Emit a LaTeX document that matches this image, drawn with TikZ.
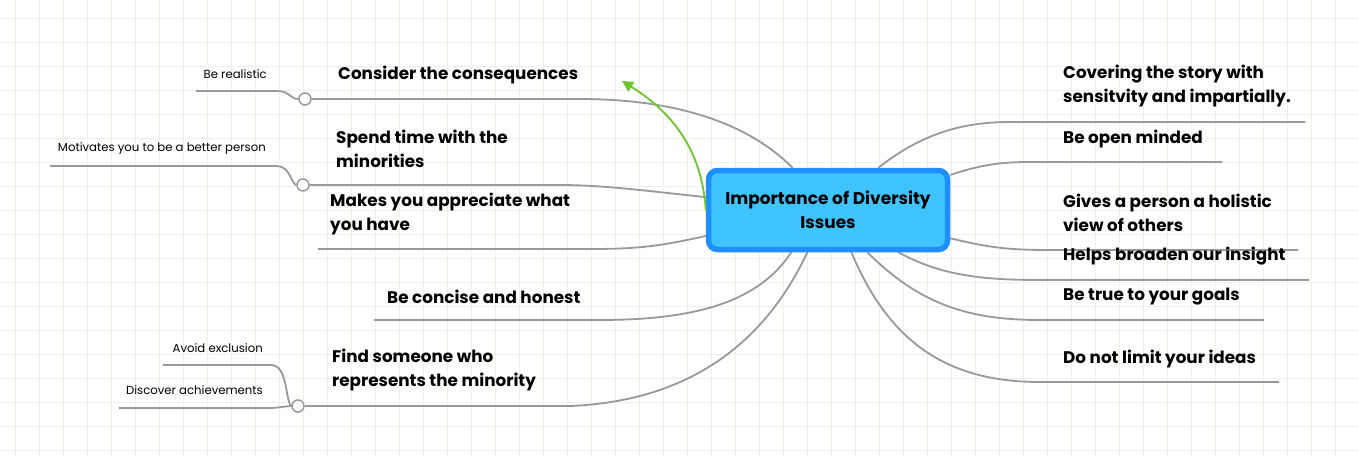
\documentclass[tikz,border=0pt]{standalone}
\usepackage{fontspec}
\setmainfont{Poppins}
\usetikzlibrary{arrows.meta}
\pgfdeclarelayer{bg}
\pgfsetlayers{bg,main}
\definecolor{gridline}{HTML}{EDF2E4}
\definecolor{branchgray}{HTML}{999999}
\definecolor{rootborder}{HTML}{1F8FFF}
\definecolor{rootfill}{HTML}{40C4FF}
\definecolor{linkgreen}{HTML}{6CC52D}
\tikzset{
  root/.style={draw=rootborder, fill=rootfill, line width=5.5pt, rounded corners=9pt,
    minimum width=239pt, minimum height=79pt, align=center,
    font=\fontsize{17}{24}\selectfont\bfseries},
  topic/.style={font=\fontsize{16.8}{24}\selectfont\bfseries, align=left, anchor=west, inner sep=0pt},
  subtopic/.style={font=\fontsize{11.7}{13}\selectfont, anchor=east, inner sep=0pt},
  branch/.style={draw=branchgray, line width=1.8pt},
  joint/.style={circle, draw=branchgray, line width=1.5pt, fill=white, minimum size=12pt, inner sep=0pt}
}
\begin{document}
\begin{tikzpicture}[x=1pt,y=1pt]
  \useasboundingbox (0,0) rectangle (1359,-456);
  \begin{pgfonlayer}{bg}
    \fill[white] (0,0) rectangle (1359,-456);
    \foreach \gx in {15,39,...,1359}
      \draw[gridline, line width=0.8pt] (\gx,0) -- (\gx,-456);
    \foreach \gy in {18,42,...,456}
      \draw[gridline, line width=0.8pt] (0,-\gy) -- (1359,-\gy);
  \end{pgfonlayer}

  % central topic
  \node[root] (root) at (828,-210) {Importance of Diversity\\Issues};

  % left side
  \node[topic] (t1) at (338,-75) {Consider the consequences};
  \node[topic] (t2) at (336,-149) {Spend time with the\\minorities};
  \node[topic] (t3) at (330,-214) {Makes you appreciate what\\you have};
  \node[topic] (t4) at (387,-297) {Be concise and honest};
  \node[topic] (t5) at (332,-370) {Find someone who\\represents the minority};

  % right side
  \node[topic] (t6) at (1063,-86) {Covering the story with\\sensitvity and impartially.};
  \node[topic] (t7) at (1063,-139) {Be open minded};
  \node[topic] (t8) at (1063,-213) {Gives a person a holistic\\view of others};
  \node[topic] (t9) at (1063,-256) {Helps broaden our insight};
  \node[topic] (t10) at (1063,-297) {Be true to your goals};
  \node[topic] (t11) at (1063,-359) {Do not limit your ideas};

  % sub topics
  \node[subtopic] (s1) at (267,-74) {Be realistic};
  \node[subtopic] (s2) at (266,-149) {Motivates you to be a better person};
  \node[subtopic] (s3) at (263,-348) {Avoid exclusion};
  \node[subtopic] (s4) at (263,-390) {Discover achievements};

  % joints
  \node[joint] (j1) at (305,-99) {};
  \node[joint] (j2) at (303,-185) {};
  \node[joint] (j3) at (298,-406) {};

  % free ends of the underlines
  \coordinate (e3) at (318,-249);
  \coordinate (e4) at (374,-320);
  \coordinate (e6) at (1305,-122);
  \coordinate (e7) at (1222,-162);
  \coordinate (e8) at (1298,-250);
  \coordinate (e9) at (1309,-280);
  \coordinate (e10) at (1264,-320);
  \coordinate (e11) at (1279,-382);
  \coordinate (f1) at (196,-91);
  \coordinate (f2) at (50,-166);
  \coordinate (f3) at (163,-365);
  \coordinate (f4) at (119,-408);

  \begin{pgfonlayer}{bg}
    \draw[branch] (root.130.6) .. controls (750,-125) and (680,-99) .. (580,-99) -- (j1);
    \draw[branch] (root.174) .. controls (640,-190) and (600,-185) .. (560,-185) -- (j2);
    \draw[branch] (root.192) .. controls (660,-246) and (640,-249) .. (590,-249) -- (e3);
    \draw[branch] (root.229.4) .. controls (760,-300) and (700,-320) .. (600,-320) -- (e4);
    \draw[branch] (root.244.5) .. controls (780,-310) and (720,-400) .. (570,-406) -- (j3);
    \draw[branch] (root.40) .. controls (920,-135) and (960,-122) .. (1010,-122) -- (e6);
    \draw[branch] (root.16) .. controls (980,-165) and (1000,-162) .. (1030,-162) -- (e7);
    \draw[branch] (root.347.5) .. controls (990,-248) and (1010,-250) .. (1050,-250) -- (e8);
    \draw[branch] (root.329.7) .. controls (940,-275) and (980,-280) .. (1040,-280) -- (e9);
    \draw[branch] (root.313.6) .. controls (920,-305) and (970,-320) .. (1040,-320) -- (e10);
    \draw[branch] (root.299.7) .. controls (890,-345) and (950,-382) .. (1040,-382) -- (e11);
    % sub branches
    \draw[branch] (j1.west) .. controls (290,-99) and (290,-91) .. (277,-91) -- (f1);
    \draw[branch] (j2.west) .. controls (292,-185) and (290,-166) .. (277,-166) -- (f2);
    \draw[branch] (j3.west) .. controls (285,-400) and (288,-365) .. (271,-365) -- (f3);
    \draw[branch] (j3.west) .. controls (285,-406) and (280,-408) .. (268,-408) -- (f4);
  \end{pgfonlayer}

  % relationship arrow
  \draw[linkgreen, line width=1.8pt, -{Triangle[length=11pt,width=11pt]}]
    (root.west) .. controls (702,-150) and (672,-112) .. (622,-81);
\end{tikzpicture}
\end{document}
